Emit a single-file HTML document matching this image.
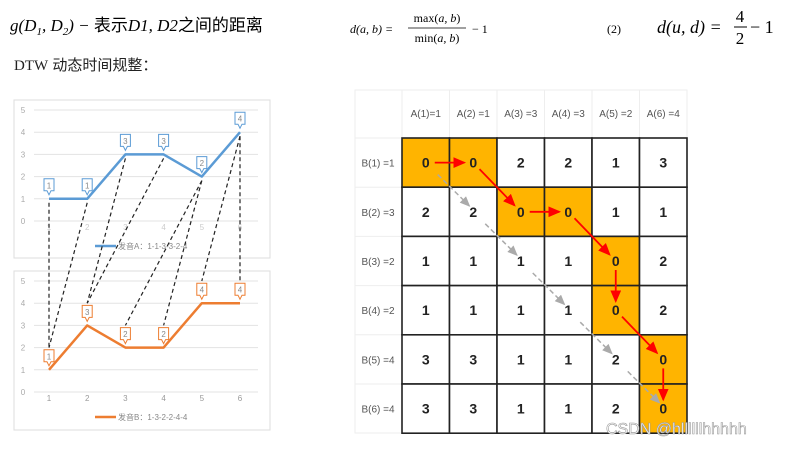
<!DOCTYPE html>
<html><head><meta charset="utf-8"><style>
body{margin:0;background:#fff;width:786px;height:446px;overflow:hidden}
svg text{font-family:"Liberation Sans","Noto Sans CJK SC",sans-serif}
.serif{font-family:"Liberation Serif","Noto Serif CJK SC",serif}
</style></head><body>
<svg id="s" width="786" height="446" xmlns="http://www.w3.org/2000/svg">
<g>
<text x="10" y="31" font-size="17" font-style="italic" class="serif">g(D<tspan font-size="11" dy="4">1</tspan><tspan dy="-4">, D</tspan><tspan font-size="11" dy="4">2</tspan><tspan dy="-4">) − </tspan><tspan font-style="normal" font-family="Noto Sans CJK SC">表示</tspan>D1, D2<tspan font-style="normal" font-family="Noto Sans CJK SC">之间的距离</tspan></text>
</g>
<g class="serif" font-size="12">
<text x="350" y="33" font-style="italic" class="serif">d(a, b) =</text>
<text x="437" y="22" text-anchor="middle" class="serif">max(<tspan font-style="italic">a, b</tspan>)</text>
<line x1="408" y1="28" x2="466" y2="28" stroke="#000" stroke-width="0.8"/>
<text x="437" y="42" text-anchor="middle" class="serif">min(<tspan font-style="italic">a, b</tspan>)</text>
<text x="472" y="33" class="serif">− 1</text>
<text x="607" y="33" class="serif">(2)</text>
</g>
<g>
<text x="657" y="33" font-size="18" font-style="italic" class="serif">d(u, d) =</text>
<text x="740" y="22" font-size="17" text-anchor="middle" class="serif">4</text>
<line x1="734" y1="27" x2="747" y2="27" stroke="#000" stroke-width="1"/>
<text x="740" y="44" font-size="17" text-anchor="middle" class="serif">2</text>
<text x="750" y="33" font-size="18" class="serif">− 1</text>
</g>
<text x="14" y="70" font-size="15" fill="#222"><tspan class="serif">DTW</tspan> 动态时间规整：</text>
<g id="charts"></g>
<g id="table"></g>
<text x="606" y="434" font-size="16" fill="#fff" stroke="#999" stroke-width="0.6">CSDN @hllllllhhhhh</text>
</svg>
<script>
const seriesA=[1,1,3,3,2,4];
const seriesB=[1,3,2,2,4,4];
const xCats=[1,2,3,4,5,6];
const yTicks=[0,1,2,3,4,5];
const matrix=[[0,0,2,2,1,3],[2,2,0,0,1,1],[1,1,1,1,0,2],[1,1,1,1,0,2],[3,3,1,1,2,0],[3,3,1,1,2,0]];
const colLabels=["A(1)=1","A(2) =1","A(3) =3","A(4) =3","A(5) =2","A(6) =4"];
const rowLabels=["B(1) =1","B(2) =3","B(3) =2","B(4) =2","B(5) =4","B(6) =4"];
const warpPath=[[1,1],[1,2],[2,3],[2,4],[3,5],[4,5],[5,6],[6,6]]; // [b,a]
const NS="http://www.w3.org/2000/svg";
function mk(p,t,a,txt){const e=document.createElementNS(NS,t);for(const k in a)e.setAttribute(k,a[k]);if(txt!==undefined)e.textContent=txt;p.appendChild(e);return e;}
const charts=document.getElementById('charts');
const X=i=>49+(i-1)*38.2;
const YA=v=>221-v*22.2, YB=v=>392-v*22.2;
function drawChart(top,bottom,Y,data,color,legend,labY,legY,name,showX){
  const g=mk(charts,'g',{});
  
  
  mk(g,'rect',{x:14,y:top,width:256,height:bottom-top,fill:'#fff',stroke:'#ddd'});
  yTicks.forEach(t=>{mk(g,'line',{x1:34,x2:258,y1:Y(t),y2:Y(t),stroke:'#e3e3e3'});
    const tl=mk(g,'text',{x:23,y:Y(t)+3,'font-size':8,fill:'#aaa','text-anchor':'middle'},t);
    });
  xCats.forEach(c=>{const tl=mk(g,'text',{x:X(c),y:labY,'font-size':8,fill:showX?'#999':'#ccc','text-anchor':'middle'},c);
    });
  const pl=mk(g,'polyline',{points:data.map((v,i)=>X(i+1)+','+Y(v)).join(' '),fill:'none',stroke:color,'stroke-width':2.5,'stroke-linejoin':'round'});
  
  data.forEach((v,i)=>{const x=X(i+1),y=Y(v);
    const lb=mk(g,'g',{});
    
    mk(lb,'path',{d:`M${x-5} ${y-20}h10v12h-3l-2 4l-2-4h-3z`,fill:'#fff',stroke:color,'stroke-width':1});
    mk(lb,'text',{x:x,y:y-10.5,'font-size':8,fill:'#888','text-anchor':'middle'},v);});
  const lg=mk(g,'g',{});
  
  mk(lg,'line',{x1:95,x2:116,y1:legY,y2:legY,stroke:color,'stroke-width':2.5});
  mk(lg,'text',{x:118,y:legY+3,'font-size':8,fill:'#888'},legend);
}
drawChart(100,258,YA,seriesA,'#5b9bd5','发音A：1-1-3-3-2-4',230,246,'chart-a',false);
drawChart(271,430,YB,seriesB,'#ed7d31','发音B：1-3-2-2-4-4',401,417,'chart-b',true);
warpPath.forEach(([b,a])=>{const l=mk(charts,'line',{x1:X(a),y1:YA(seriesA[a-1])+4,x2:X(b),y2:YB(seriesB[b-1]+1),stroke:'#222','stroke-width':1.2,'stroke-dasharray':'4 3'});
  });
const tb=document.getElementById('table');

const defs=mk(tb,'defs',{});
const mR=mk(defs,'marker',{id:'ar',markerWidth:8,markerHeight:8,refX:6,refY:3,orient:'auto'});mk(mR,'path',{d:'M0,0L7,3L0,6z',fill:'#f00'});
const mG=mk(defs,'marker',{id:'ag',markerWidth:8,markerHeight:8,refX:6,refY:3,orient:'auto'});mk(mG,'path',{d:'M0,0L7,3L0,6z',fill:'#aaa'});
const L0=402,T0=138,CW=47.5,RH=49.2;
mk(tb,'rect',{x:355,y:90,width:332,height:343,fill:'#fff',stroke:'#eee'});
for(let i=1;i<6;i++){mk(tb,'line',{x1:L0+i*CW,x2:L0+i*CW,y1:90,y2:T0,stroke:'#eee'});mk(tb,'line',{x1:355,x2:L0,y1:T0+i*RH,y2:T0+i*RH,stroke:'#eee'});}
mk(tb,'line',{x1:355,x2:L0,y1:T0,y2:T0,stroke:'#eee'});mk(tb,'line',{x1:L0,x2:L0,y1:90,y2:T0,stroke:'#eee'});
colLabels.forEach((c,i)=>{const t=mk(tb,'text',{x:L0+(i+.5)*CW,y:117,'font-size':10,fill:'#555','text-anchor':'middle'},c);
  });
rowLabels.forEach((c,i)=>{const t=mk(tb,'text',{x:378,y:T0+(i+.5)*RH+4,'font-size':10,fill:'#555','text-anchor':'middle'},c);
  });
const onPath=(r,c)=>warpPath.some(([b,a])=>b===r+1&&a===c+1);
matrix.forEach((row,r)=>row.forEach((v,c)=>{
  const cg=mk(tb,'g',{});
  
  mk(cg,'rect',{x:L0+c*CW,y:T0+r*RH,width:CW,height:RH,fill:onPath(r,c)?'#ffb400':'#fff',stroke:'#222','stroke-width':1.6});
  mk(cg,'text',{x:L0+(c+.5)*CW,y:T0+(r+.5)*RH+5,'font-size':14,'font-weight':'bold',fill:'#222','text-anchor':'middle'},v);
}));
const cx=c=>L0+(c-.5)*CW, cy=r=>T0+(r-.5)*RH;
for(let i=1;i<6;i++){const l=mk(tb,'line',{x1:cx(i)+12,y1:cy(i)+12,x2:cx(i+1)-4,y2:cy(i+1)-6,stroke:'#aaa','stroke-width':1.5,'stroke-dasharray':'5 3','marker-end':'url(#ag)'});
  }
for(let i=0;i<warpPath.length-1;i++){const [b1,a1]=warpPath[i],[b2,a2]=warpPath[i+1];
  let x1=cx(a1),y1=cy(b1),x2=cx(a2),y2=cy(b2);
  const dx=x2-x1,dy=y2-y1,d=Math.hypot(dx,dy),s=9;
  const l=mk(tb,'line',{x1:x1+dx/d*s,y1:y1+dy/d*s,x2:x2-dx/d*s,y2:y2-dy/d*s,stroke:'#f00','stroke-width':1.8,'marker-end':'url(#ar)'});
  }
</script>
</body></html>
